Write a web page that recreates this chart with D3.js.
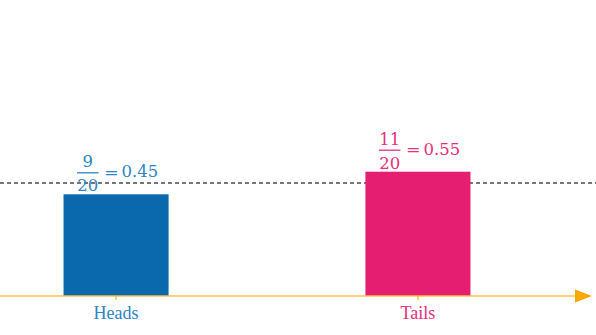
<!DOCTYPE html>
<html><head><meta charset="utf-8">
<script src="https://cdn.jsdelivr.net/npm/d3@7"></script>
<style>html,body{margin:0;padding:0;background:#fff;}svg{display:block;}</style>
</head><body>
<svg id="chart" width="596" height="335"></svg>
<script>
const categories = ["Heads", "Tails"];
const counts = [9, 11];
const totals = [20, 20];
const probabilities = [0.45, 0.55];
const referenceLevel = 0.5;
const barColors = ["#0a69ad", "#e51e72"];
const textColors = ["#2f84c6", "#e6307d"];

const W = 596, H = 335;
const axisY = 296;
const svg = d3.select("#chart");
const labelFont = "'Liberation Serif', 'Times New Roman', serif";
const mathFont = "'DejaVu Serif', serif";

const x = d3.scaleBand().domain(categories).range([11, 523]).paddingInner(0.652).paddingOuter(0.174);
const y = d3.scaleLinear().domain([0, 1]).range([axisY, axisY - 226]);

// dashed reference line
svg.append("line")
  .attr("x1", 0).attr("x2", W)
  .attr("y1", y(referenceLevel)).attr("y2", y(referenceLevel))
  .attr("stroke", "#4a4a4a").attr("stroke-width", 1.3)
  .attr("stroke-dasharray", "4,3");

// bars
svg.selectAll("rect.bar").data(categories).enter().append("rect")
  .attr("class", "bar")
  .attr("x", d => x(d))
  .attr("width", x.bandwidth())
  .attr("y", (d, i) => y(probabilities[i]))
  .attr("height", (d, i) => y(0) - y(probabilities[i]))
  .attr("fill", (d, i) => barColors[i]);

// axis line with arrow
svg.append("line")
  .attr("x1", 0).attr("x2", 577)
  .attr("y1", axisY).attr("y2", axisY)
  .attr("stroke", "#f8c445").attr("stroke-width", 1.5);
svg.append("path")
  .attr("d", `M575,${axisY - 6.5}L592,${axisY}L575,${axisY + 6.5}Z`)
  .attr("fill", "#f6a700");

// ticks
svg.selectAll("line.tick").data(categories).enter().append("line")
  .attr("class", "tick")
  .attr("x1", d => x(d) + x.bandwidth() / 2).attr("x2", d => x(d) + x.bandwidth() / 2)
  .attr("y1", axisY).attr("y2", axisY + 4)
  .attr("stroke", "#f8c445").attr("stroke-width", 1.5);

// category labels
svg.selectAll("text.cat").data(categories).enter().append("text")
  .attr("class", "cat")
  .attr("x", d => x(d) + x.bandwidth() / 2)
  .attr("y", 318.5)
  .attr("text-anchor", "middle")
  .attr("font-family", labelFont)
  .attr("font-size", 18)
  .attr("fill", (d, i) => textColors[i])
  .text(d => d);

// fraction labels
categories.forEach((c, i) => {
  const lineY = y(probabilities[i]) - 21.5;
  const fx = x(c) + 13.5;
  const fw = 21.5;
  const g = svg.append("g").attr("fill", textColors[i]).attr("font-family", mathFont).attr("font-size", 16.5);
  g.append("text").attr("x", fx + fw / 2).attr("y", lineY - 5.5).attr("text-anchor", "middle").text(counts[i]);
  g.append("line").attr("x1", fx).attr("x2", fx + fw).attr("y1", lineY).attr("y2", lineY)
    .attr("stroke", textColors[i]).attr("stroke-width", 1.3);
  g.append("text").attr("x", fx + fw / 2).attr("y", lineY + 18.3).attr("text-anchor", "middle").text(totals[i]);
  g.append("text").attr("x", fx + fw + 5.5).attr("y", lineY + 5).attr("font-size", 17.5).text("=");
  g.append("text").attr("x", fx + fw + 23).attr("y", lineY + 4.6).text(probabilities[i].toFixed(2));
});
</script>
</body></html>
